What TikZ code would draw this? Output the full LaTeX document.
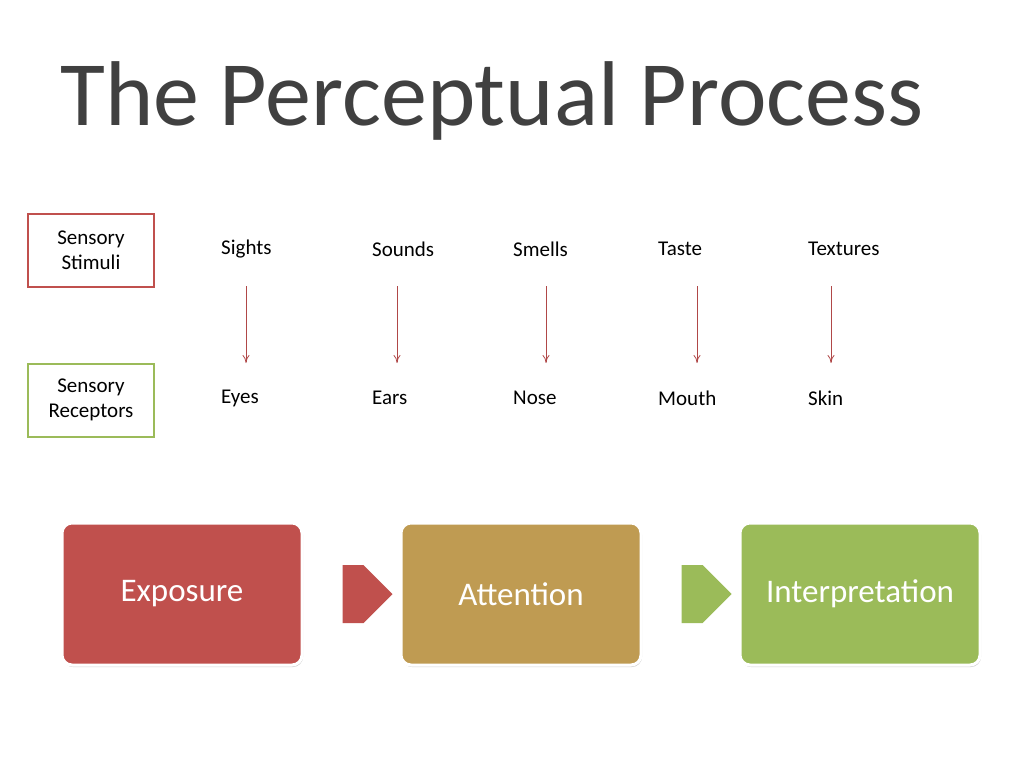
\documentclass[tikz,border=0pt]{standalone}
\usepackage{fontspec}
\setmainfont{Carlito}
\usetikzlibrary{shapes.arrows,shadows,arrows.meta}
\definecolor{tgray}{HTML}{404040}
\definecolor{cred}{HTML}{C0504D}
\definecolor{cgold}{HTML}{BF9B52}
\definecolor{cgreen}{HTML}{9BBB59}
\definecolor{arr}{HTML}{B04848}
\tikzset{
  lab/.style={font=\fontsize{21}{25}\selectfont, text=black, anchor=west, inner sep=0},
  sbox/.style={draw, line width=2pt, minimum width=126, minimum height=73, align=center, font=\fontsize{21}{25}\selectfont},
  big/.style={rounded corners=10, draw=white, line width=3pt, minimum width=240, minimum height=142, text=white, font=\fontsize{33}{38}\selectfont, drop shadow={shadow xshift=1pt, shadow yshift=-2pt, opacity=0.35}},
  barr/.style={single arrow, single arrow head extend=0pt, minimum width=58, minimum height=50, single arrow head indent=0pt, inner sep=0},
  conn/.style={draw=arr, line width=0.8pt, -{To[length=8pt,width=7pt]}}
}
\begin{document}
\begin{tikzpicture}[x=1pt,y=-1pt]
\useasboundingbox (0,0) rectangle (1024,768);
\fill[white] (0,0) rectangle (1024,768);
\node[text=tgray, font=\fontsize{92}{100}\selectfont, anchor=base west, inner sep=0] (title) at (60,125) {The Perceptual Process};
\node[sbox, draw=cred] (stim) at (91,250) {Sensory\\Stimuli};
\node[sbox, draw=cgreen] (rec) at (91,400) {Sensory\\Receptors};
\foreach \n/\x/\ax/\a/\b in {1/221/246/Sights/Eyes, 2/372/397/Sounds/Ears, 3/513/546/Smells/Nose, 4/658/697/Taste/Mouth, 5/808/831/Textures/Skin}{
  \node[lab] (s\n) at (\x,249) {\a};
  \node[lab] (r\n) at (\x,398) {\b};
  \coordinate (t\n) at (\ax,286);
  \coordinate (b\n) at (\ax,363);
  \draw[conn] (t\n) -- (b\n);
}
\node[big, fill=cred] (exp) at (182,594) {Exposure};
\node[big, fill=cgold] (att) at (521,594) {Attention};
\node[big, fill=cgreen] (int) at (860,594) {Interpretation};
\node[barr, fill=cred] (a1) at (353,594) {};
\node[barr, fill=cgreen] (a2) at (692,594) {};
\end{tikzpicture}
\end{document}
